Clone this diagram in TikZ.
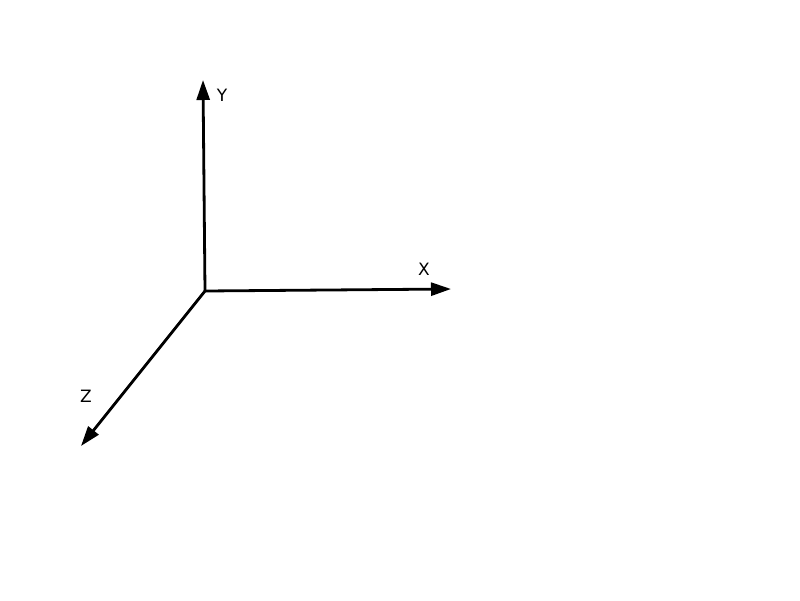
\documentclass[tikz,border=0pt]{standalone}
\usepackage{fontspec}
\setmainfont{DejaVu Sans}
\usetikzlibrary{arrows.meta}
\begin{document}
\begin{tikzpicture}[x=1pt,y=-1pt,
  axis/.style={line width=2.8pt,-{Triangle[length=20pt,width=13pt]}},
  lbl/.style={inner sep=0pt,font=\fontsize{17}{19}\selectfont}]
\useasboundingbox (0,0) rectangle (800,600);
\coordinate (o) at (205,291);
\coordinate (y) at (203,80);
\coordinate (x) at (451,289);
\coordinate (z) at (81,446);
\draw[axis] (o) -- (y);
\draw[axis] (o) -- (x);
\draw[axis] (o) -- (z);
\node[lbl] (ly) at (222,95) {Y};
\node[lbl] (lx) at (424,269) {X};
\node[lbl] (lz) at (86,396) {Z};
\end{tikzpicture}
\end{document}
